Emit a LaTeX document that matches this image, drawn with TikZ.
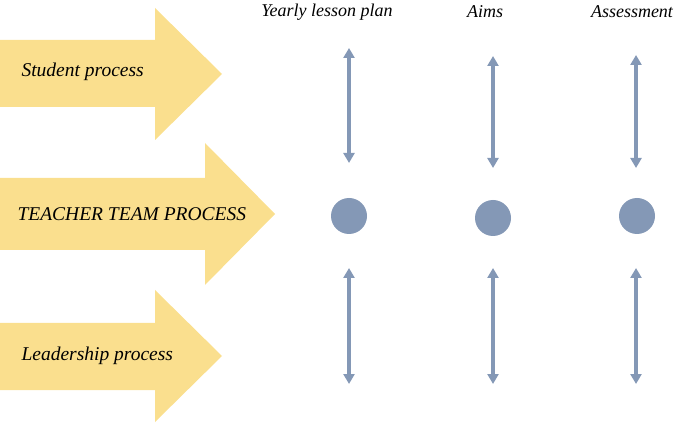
\documentclass[tikz,border=0pt]{standalone}
\usepackage{fontspec}
\setmainfont{Liberation Serif}
\usetikzlibrary{arrows.meta}
\definecolor{bigarrow}{HTML}{FADF8E}
\definecolor{steel}{HTML}{8498B6}
\tikzset{
 blockarrow/.style={fill=bigarrow,draw=none},
 lbl/.style={font=\itshape\fontsize{19.5}{22}\selectfont},
 hdr/.style={font=\itshape\fontsize{18}{20}\selectfont},
 dot/.style={circle,fill=steel,draw=none,minimum size=36pt,inner sep=0pt},
 darr/.style={draw=steel,line width=3.2pt,{Triangle[length=10pt,width=11pt]}-{Triangle[length=10pt,width=11pt]}}
}
\begin{document}
\begin{tikzpicture}[x=1pt,y=-1pt]
\useasboundingbox (0,0) rectangle (685,427);
% block arrows
\fill[blockarrow] (0,40)--(155,40)--(155,8)--(222,74)--(155,140)--(155,107)--(0,107)--cycle;
\fill[blockarrow] (0,178)--(205,178)--(205,143)--(275,214)--(205,285)--(205,250)--(0,250)--cycle;
\fill[blockarrow] (0,323)--(155,323)--(155,290)--(222,356)--(155,422)--(155,390)--(0,390)--cycle;
\node[lbl,anchor=west] (p1) at (18,72) {Student process};
\node[lbl,anchor=west] (p2) at (14,214) {TEACHER TEAM PROCESS};
\node[lbl,anchor=west] (p3) at (18,356) {Leadership process};
% headers
\node[hdr] (h1) at (327,12) {Yearly lesson plan};
\node[hdr] (h2) at (485,12) {Aims};
\node[hdr] (h3) at (632,12) {Assessment};
% dots
\node[dot] (c1) at (349,216) {};
\node[dot] (c2) at (493,218) {};
\node[dot] (c3) at (637,216) {};
% vertical arrows
\coordinate (a1t) at (349,48); \coordinate (a1b) at (349,163);
\coordinate (a2t) at (493,56); \coordinate (a2b) at (493,168);
\coordinate (a3t) at (636,55); \coordinate (a3b) at (636,168);
\coordinate (b1t) at (349,268); \coordinate (b1b) at (349,384);
\coordinate (b2t) at (493,268); \coordinate (b2b) at (493,384);
\coordinate (b3t) at (636,268); \coordinate (b3b) at (636,384);
\draw[darr] (a1t)--(a1b);
\draw[darr] (a2t)--(a2b);
\draw[darr] (a3t)--(a3b);
\draw[darr] (b1t)--(b1b);
\draw[darr] (b2t)--(b2b);
\draw[darr] (b3t)--(b3b);
\end{tikzpicture}
\end{document}
